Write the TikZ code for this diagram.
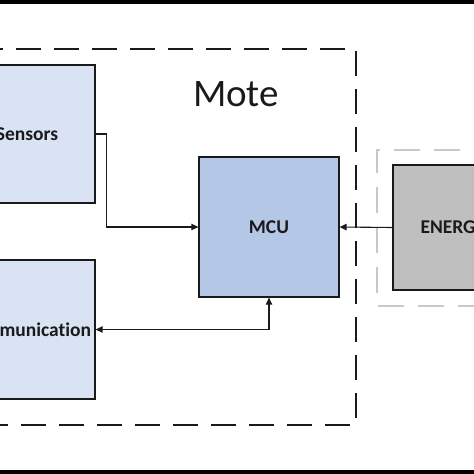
\documentclass[tikz,border=0pt]{standalone}
\usepackage{fontspec}
\setmainfont{Carlito}[Ligatures=NoCommon]
\usetikzlibrary{arrows.meta}
\definecolor{lightblk}{HTML}{DAE3F3}
\definecolor{mcublue}{HTML}{B4C7E7}
\definecolor{energygray}{HTML}{BFBFBF}
\definecolor{dashgray}{HTML}{C8C8C8}
\definecolor{txt}{HTML}{1A1A1A}
\tikzset{
  blockbox/.style={draw=txt, line width=1.3pt, minimum width=#1, inner sep=0pt, font=\bfseries\fontsize{19.5}{23}\selectfont, text=txt},
  conn/.style={draw=txt, line width=1.1pt, -{Triangle[length=7pt,width=6.5pt]}},
  moteframe/.style={draw=txt, line width=1.7pt, dash pattern=on 25pt off 13pt},
  energyframe/.style={draw=dashgray, line width=2.3pt, dash pattern=on 26pt off 14pt},
}
\begin{document}
\begin{tikzpicture}[x=1pt, y=-1pt]
\useasboundingbox (0,0) rectangle (474,474);
\begin{scope}
\clip (0,0) rectangle (474,474);
% frames
\draw[moteframe] (-60,49) -- (356,49) -- (356,425) -- (-60,425);
\draw[energyframe] (540,150) -- (377,150) -- (377,306) -- (540,306);
% blocks
\node[blockbox=136pt, minimum height=138pt, fill=lightblk] (sensors) at (27,134) {Sensors};
\node[blockbox=136pt, minimum height=139pt, fill=lightblk] (comm) at (27,329.5) {Communication};
\node[blockbox=140pt, minimum height=140pt, fill=mcublue] (mcu) at (269,227) {MCU};
\node[blockbox=120pt, minimum height=125pt, fill=energygray] (energy) at (453,227.5) {ENERGY};
\node[font=\fontsize{39}{44}\selectfont, text=txt] (mote) at (236,94) {Mote};
% connectors
\draw[conn] (sensors.east) -- ++(11,0) |- (mcu.west);
\draw[conn] (energy.west) -- (mcu.east);
\draw[conn, {Triangle[length=7pt,width=6.5pt]}-{Triangle[length=7pt,width=6.5pt]}] (mcu.south) |- (comm.east);
% bands
\fill[black] (0,0) rectangle (474,3.5);
\fill[black] (0,469.5) rectangle (474,474);
\end{scope}
\end{tikzpicture}
\end{document}
